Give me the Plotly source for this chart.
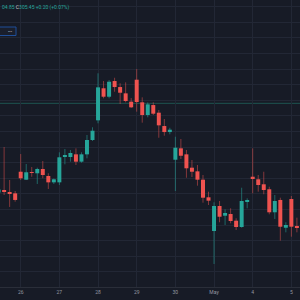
import plotly.graph_objects as go

# ---------------- data ----------------
sessions = [
    ("2021-04-23", ["12:30", "13:30", "14:30", "15:30"]),
    ("2021-04-26", ["09:30", "10:30", "11:30", "12:30", "13:30", "14:30", "15:30"]),
    ("2021-04-27", ["09:30", "10:30", "11:30", "12:30", "13:30", "14:30", "15:30"]),
    ("2021-04-28", ["09:30", "10:30", "11:30", "12:30", "13:30", "14:30", "15:30"]),
    ("2021-04-29", ["09:30", "10:30", "11:30", "12:30", "13:30", "14:30", "15:30"]),
    ("2021-04-30", ["09:30", "10:30", "11:30", "12:30", "13:30", "14:30", "15:30"]),
    ("2021-05-03", ["09:30", "10:30", "11:30", "12:30", "13:30", "14:30", "15:30"]),
    ("2021-05-04", ["09:30", "10:30", "11:30", "12:30", "13:30", "14:30", "15:30"]),
    ("2021-05-05", ["09:30", "10:30"]),
]
times = [f"{d} {h}" for d, hs in sessions for h in hs]

opens = [310.17, 310.49, 310.23, 310.06, 312.83, 311.81, 312.79, 312.63, 313.18, 312.28,
         311.47, 311.47, 314.81, 314.72, 315.06, 314.12, 315.06, 316.90, 319.42, 323.53,
         322.45, 324.46, 323.69, 322.88, 321.81, 324.63, 321.73, 320.10, 321.38, 320.40,
         318.69, 317.92, 314.37, 315.83, 315.06, 313.35, 312.88, 311.81, 309.55, 305.23,
         308.44, 307.19, 307.41, 306.55, 305.74, 309.01, 312.19, 311.86, 311.22, 310.58,
         307.63, 309.21, 305.65, 309.33, 305.78]
highs = [310.74, 316.00, 311.77, 310.36, 315.10, 313.82, 313.44, 313.35, 314.21, 312.63,
         311.96, 315.32, 315.74, 315.62, 315.83, 315.32, 317.54, 318.53, 325.45, 324.46,
         324.59, 324.88, 324.17, 324.29, 322.28, 326.00, 322.37, 321.71, 321.73, 320.74,
         319.59, 318.47, 317.32, 317.03, 315.62, 314.33, 313.69, 312.41, 310.27, 308.91,
         309.08, 308.01, 308.14, 306.86, 310.78, 309.42, 315.83, 312.41, 312.83, 310.91,
         309.85, 309.50, 306.35, 309.72, 306.94]
lows = [309.97, 309.85, 308.31, 308.99, 311.77, 311.77, 312.19, 311.26, 311.99, 310.62,
        311.26, 311.13, 313.78, 314.12, 313.69, 313.99, 314.55, 316.77, 319.04, 322.24,
        322.24, 323.09, 321.51, 321.73, 321.00, 320.53, 319.12, 319.81, 320.10, 317.19,
        317.45, 317.63, 310.36, 314.46, 312.06, 312.15, 311.04, 308.86, 308.56, 301.00,
        306.35, 306.00, 306.22, 305.36, 305.65, 308.14, 310.06, 310.27, 309.94, 307.37,
        306.77, 303.99, 305.06, 304.50, 305.06]
closes = [310.55, 310.29, 310.04, 309.21, 311.99, 312.76, 312.67, 313.18, 312.41, 311.47,
          311.86, 314.68, 314.97, 315.23, 314.12, 315.06, 316.90, 318.09, 323.65, 322.45,
          324.37, 323.69, 322.96, 321.90, 321.09, 321.77, 320.10, 321.47, 320.27, 318.78,
          317.92, 318.22, 315.91, 314.88, 313.27, 312.83, 311.81, 309.50, 309.12, 308.44,
          307.06, 307.54, 306.51, 305.74, 309.08, 309.14, 311.90, 311.13, 310.49, 307.63,
          309.08, 305.78, 306.00, 305.78, 305.62]

tick_vals = ["2021-04-26 09:30", "2021-04-27 09:30", "2021-04-28 09:30", "2021-04-29 09:30",
             "2021-04-30 09:30", "2021-05-03 09:30", "2021-05-04 09:30", "2021-05-05 09:30"]
tick_text = ["26", "27", "28", "29", "30", "May", "4", "5"]

price_line = 321.60
legend_text = ("04.85", "C", "305.45 +0.20 (+0.07%)")

# ---------------- styles ----------------
UP = "#26a69a"
DOWN = "#ef5350"
UP_WICK = "rgba(38,166,154,0.55)"
DOWN_WICK = "rgba(239,83,80,0.5)"
BG = "#171b26"
GRID = "#222735"

fig = go.Figure()

# wicks
for up, col in ((True, UP_WICK), (False, DOWN_WICK)):
    wx, wy = [], []
    for t, o, h, l, c in zip(times, opens, highs, lows, closes):
        if (c >= o) == up:
            wx += [t, t, None]
            wy += [l, h, None]
    fig.add_trace(go.Scatter(x=wx, y=wy, mode="lines", line=dict(color=col, width=1),
                             hoverinfo="skip", connectgaps=False))

# bodies
fig.add_trace(go.Bar(
    x=times,
    base=[min(o, c) for o, c in zip(opens, closes)],
    y=[abs(c - o) for o, c in zip(opens, closes)],
    width=0.72,
    marker=dict(color=[UP if c >= o else DOWN for o, c in zip(opens, closes)], line=dict(width=0)),
    hoverinfo="skip",
))

fig.add_shape(type="line", xref="paper", x0=0, x1=1, yref="y", y0=price_line, y1=price_line,
              line=dict(color="#1d5450", width=1), layer="below")

fig.add_annotation(
    xref="paper", yref="paper", x=0, y=1 - 8 / 287, xanchor="left", yanchor="middle",
    text=(f"<span style='color:{UP}'>{legend_text[0]}</span> "
          f"<span style='color:#d1d4dc'>{legend_text[1]}</span>"
          f"<span style='color:{UP}'>{legend_text[2]}</span>"),
    showarrow=False, font=dict(family="Roboto", size=5, color=UP),
)

# small "..." button
fig.add_shape(type="rect", xref="paper", yref="paper", x0=-0.01, x1=16 / 300,
              y0=1 - 35.5 / 287, y1=1 - 27 / 287,
              line=dict(color="#1f4f99", width=1), fillcolor="#1a1f2c")
fig.add_annotation(xref="paper", yref="paper", x=10.3 / 300, y=1 - 31 / 287,
                   xanchor="center", yanchor="middle", text="•••", showarrow=False,
                   font=dict(family="Roboto", size=4, color="#c8cbd3"))

fig.update_layout(
    width=300, height=300,
    margin=dict(l=0, r=0, t=0, b=13),
    paper_bgcolor=BG, plot_bgcolor=BG,
    showlegend=False, barmode="overlay",
    xaxis=dict(type="category", categoryorder="array", categoryarray=times,
               range=[0.2534, 54.562], tickvals=tick_vals, ticktext=tick_text,
               showgrid=True, gridcolor=GRID, gridwidth=1, zeroline=False,
               showline=True, linecolor="#2a2e39", linewidth=1, ticks="",
               tickfont=dict(family="Roboto", size=5, color="#9598a1"), fixedrange=True),
    yaxis=dict(range=[298.05, 334.85], dtick=2, tick0=0, showticklabels=False,
               showgrid=True, gridcolor=GRID, gridwidth=1, zeroline=False, fixedrange=True),
)

fig.write_html("out.html")
